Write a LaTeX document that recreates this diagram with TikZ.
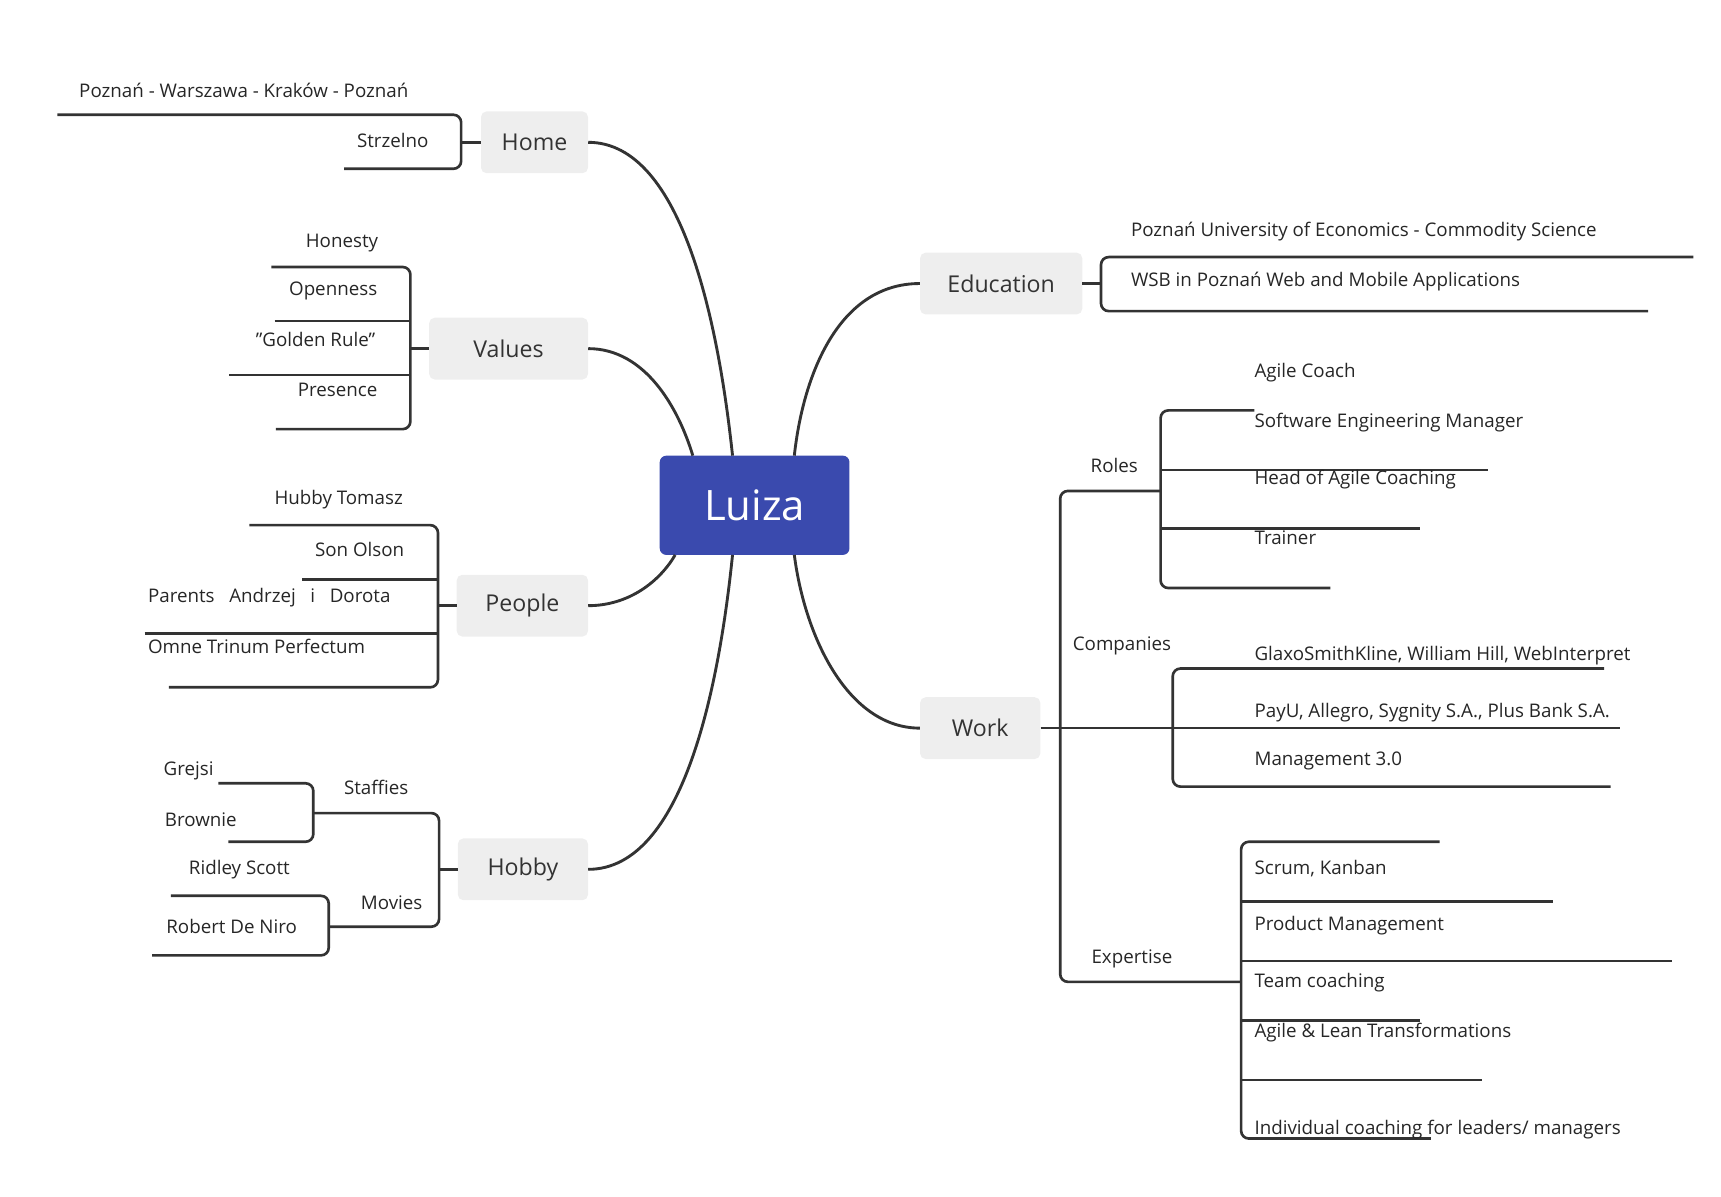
\documentclass[tikz,border=0pt]{standalone}
\usepackage{fontspec}
\setmainfont{Open Sans}
\definecolor{ln}{HTML}{333333}
\definecolor{cen}{HTML}{3A4AAE}
\definecolor{br}{HTML}{EEEEEE}
\begin{document}
\begin{tikzpicture}[x=1pt,y=-1pt,
  lk/.style={draw=ln,line width=2.4pt,rounded corners=7pt},
  cv/.style={draw=ln,line width=2.6pt},
  bnode/.style={fill=br,rounded corners=5pt,inner sep=0pt,text=ln,font=\fontsize{21}{24}\selectfont},
  lf/.style={inner sep=0pt,text=black!85,font=\fontsize{17}{20}\selectfont}]
\useasboundingbox (0,0) rectangle (1560,1085);
% centre
\node[fill=cen,rounded corners=6pt,minimum width=172pt,minimum height=90pt,text=white,font=\fontsize{38}{44}\selectfont] (c) at (684,458) {Luiza};
% branches
\node[bnode,minimum width=97pt,minimum height=56pt] (home) at (484.5,129) {Home};
\node[bnode,minimum width=144pt,minimum height=56pt] (values) at (461,316) {Values};
\node[bnode,minimum width=119pt,minimum height=56pt] (people) at (473.5,549) {People};
\node[bnode,minimum width=118pt,minimum height=56pt] (hobby) at (474,788) {Hobby};
\node[bnode,minimum width=147pt,minimum height=56pt] (edu) at (907.5,257) {Education};
\node[bnode,minimum width=109pt,minimum height=56pt] (work) at (888.5,660) {Work};
% curves
\coordinate (c1) at (664,413); \coordinate (c2) at (628,413); \coordinate (c3) at (612,503);
\coordinate (c4) at (664,503); \coordinate (c5) at (720,413); \coordinate (c6) at (720,503);
\draw[cv] (home.east) .. controls (620,129) and (652,300) .. (c1);
\draw[cv] (values.east) .. controls (585,316) and (615,370) .. (c2);
\draw[cv] (people.east) .. controls (570,549) and (598,527) .. (c3);
\draw[cv] (hobby.east) .. controls (620,788) and (652,620) .. (c4);
\draw[cv] (edu.west) .. controls (760,257) and (728,340) .. (c5);
\draw[cv] (work.west) .. controls (770,660) and (730,580) .. (c6);
% ---- Home
\node[lf] (h1) at (221,82) {Poznań - Warszawa - Kraków - Poznań};
\node[lf] (h2) at (356,127) {Strzelno};
\coordinate (hb) at (418,129);
\draw[lk] (home.west) -- (hb);
\draw[lk] (52,104) -- (418,104) -- (418,153) -- (312,153);
% ---- Values
\node[lf] (v1) at (310,220) {Honesty};
\node[lf] (v2) at (302,264) {Openness};
\node[lf] (v3) at (286,308) {"Golden Rule"};
\node[lf] (v4) at (306,353) {Presence};
\draw[lk] (values.west) -- (372,316);
\draw[lk] (246,242) -- (372,242) -- (372,389) -- (250,389);
\draw[lk] (249,291) -- (372,291);
\draw[lk] (208,340) -- (372,340);
% ---- People
\node[lf] (p1) at (307,453) {Hubby Tomasz};
\node[lf] (p2) at (326,498) {Son Olson};
\node[lf,anchor=west] (p3) at (134,542) {Parents~~~Andrzej~~~i~~~Dorota};
\node[lf,anchor=west] (p4) at (134,586) {Omne Trinum Perfectum};
\draw[lk] (people.west) -- (397,549);
\draw[lk] (226,476) -- (397,476) -- (397,623) -- (153,623);
\draw[lk] (274,525) -- (397,525);
\draw[lk] (131,574) -- (397,574);
% ---- Hobby
\node[lf] (s) at (341,714) {Staffies};
\node[lf] (m) at (355,818) {Movies};
\node[lf] (g1) at (171,699) {Grejsi};
\node[lf] (g2) at (182,743) {Brownie};
\node[lf] (g3) at (217,788) {Ridley Scott};
\node[lf] (g4) at (210,840) {Robert De Niro};
\draw[lk] (hobby.west) -- (398,788);
\draw[lk] (284,737) -- (398,737) -- (398,840) -- (298,840);
\draw[lk] (198,710) -- (284,710) -- (284,763) -- (207,763);
\draw[lk] (155,812) -- (298,812) -- (298,866) -- (138,866);
% ---- Education
\node[lf,anchor=west] (e1) at (1025,210) {Poznań University of Economics - Commodity Science};
\node[lf,anchor=west] (e2) at (1025,255) {WSB in Poznań Web and Mobile Applications};
\draw[lk] (edu.east) -- (998,257);
\draw[lk] (1535,233) -- (998,233) -- (998,282) -- (1494,282);
% ---- Work
\draw[lk] (work.east) -- (1468,660);
\draw[lk] (1052,445) -- (961,445) -- (961,890) -- (1125,890);
\node[lf] (r) at (1010,422) {Roles};
\node[lf] (co) at (1017,585) {Companies};
\node[lf] (ex) at (1026,869) {Expertise};
% roles
\draw[lk] (1137,372) -- (1052,372) -- (1052,533) -- (1206,533);
\draw[lk] (1052,426) -- (1349,426);
\draw[lk] (1052,479) -- (1287,479);
\node[lf,anchor=west] (r1) at (1137,338) {Agile Coach};
\node[lf,anchor=west] (r2) at (1137,383) {Software Engineering Manager};
\node[lf,anchor=west] (r3) at (1137,435) {Head of Agile Coaching};
\node[lf,anchor=west] (r4) at (1137,487) {Trainer};
% companies
\draw[lk] (1454,606) -- (1063,606) -- (1063,713) -- (1460,713);
\node[lf,anchor=west] (k1) at (1137,594) {GlaxoSmithKline, William Hill, WebInterpret};
\node[lf,anchor=west] (k2) at (1137,646) {PayU, Allegro, Sygnity S.A., Plus Bank S.A.};
\node[lf,anchor=west] (k3) at (1137,690) {Management 3.0};
% expertise
\draw[lk] (1305,763) -- (1125,763) -- (1125,1032) -- (1297,1032);
\draw[lk] (1125,817) -- (1408,817);
\draw[lk] (1125,871) -- (1516,871);
\draw[lk] (1125,925) -- (1287,925);
\draw[lk] (1125,979) -- (1343,979);
\node[lf,anchor=west] (x1) at (1137,787) {Scrum, Kanban};
\node[lf,anchor=west] (x2) at (1137,839) {Product Management};
\node[lf,anchor=west] (x3) at (1137,891) {Team coaching};
\node[lf,anchor=west] (x4) at (1137,936) {Agile \& Lean Transformations};
\node[lf,anchor=west] (x5) at (1137,1024) {Individual coaching for leaders/ managers};
\end{tikzpicture}
\end{document}
